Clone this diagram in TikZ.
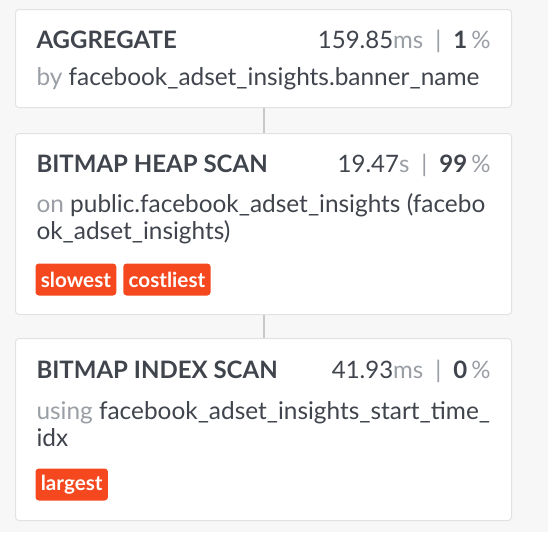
\documentclass[tikz,border=0pt]{standalone}
\usepackage{fontspec}
\setmainfont{Lato}
\usetikzlibrary{positioning}

\definecolor{pagebg}{HTML}{F7F7F7}
\definecolor{nodetext}{HTML}{40444C}
\definecolor{mutedtext}{HTML}{9A9EA5}
\definecolor{tagred}{HTML}{F5481E}
\definecolor{linkgray}{HTML}{C8C8C8}
\definecolor{boxline}{HTML}{E2E2E2}

\newcommand{\planstats}[3]{#1\textcolor{mutedtext}{#2}\enspace\textcolor{mutedtext}{|}\enspace\textbf{#3}\,\textcolor{mutedtext}{\%}}

\tikzset{every picture/.style={line width=0.75pt}}
\tikzset{
  planbox/.style={draw=boxline, fill=white, rounded corners=2.5pt, anchor=north west,
    inner sep=0pt, minimum width=372pt},
  plantitle/.style={anchor=base west, inner sep=0pt, text=nodetext, font=\fontsize{18}{22}\selectfont\bfseries},
  planstat/.style={anchor=base east, inner sep=0pt, text=nodetext, font=\fontsize{18}{22}\selectfont},
  plandetail/.style={anchor=base west, inner sep=0pt, text=nodetext, align=left,
    font=\fontsize{18.3}{20}\selectfont},
  plantag/.style={fill=tagred, text=white, rounded corners=2.5pt, inner xsep=4pt, inner ysep=0pt,
    minimum height=24pt, font=\fontsize{15.5}{17}\selectfont\bfseries},
  planlink/.style={draw=linkgray, line width=1.5pt}
}

\begin{document}
\begin{tikzpicture}[x=0.75pt,y=0.75pt,yscale=-1,xscale=1]
\fill[pagebg] (0,0) rectangle (548,532);
\useasboundingbox (0,0) rectangle (548,532);

% Aggregate
\node[planbox, minimum height=73.5pt] (agg) at (15,9) {};
\node[plantitle] (aggtitle) at (36,48) {AGGREGATE};
\node[planstat] (aggstat) at (491,48) {\planstats{159.85}{ms}{1}};
\node[plandetail] (aggby) at (36,85) {\textcolor{mutedtext}{by} facebook\_adset\_insights.banner\_name};

% Bitmap heap scan
\node[planbox, minimum height=135.75pt] (heap) at (15,133) {};
\node[plantitle] (heaptitle) at (36,172) {BITMAP HEAP SCAN};
\node[planstat] (heapstat) at (491,172) {\planstats{19.47}{s}{99}};
\node[plandetail] (heapon) at (36,239) {\textcolor{mutedtext}{on} public.facebook\_adset\_insights (facebo\\ok\_adset\_insights)};
\node[plantag, anchor=north west] (slowest) at (35,263) {slowest};
\node[plantag, right=4.5pt of slowest] (costliest) {costliest};

% Bitmap index scan
\node[planbox, minimum height=136.5pt] (idx) at (15,338) {};
\node[plantitle] (idxtitle) at (36,378) {BITMAP INDEX SCAN};
\node[planstat] (idxstat) at (491,378) {\planstats{41.93}{ms}{0}};
\node[plandetail] (idxusing) at (36,446) {\textcolor{mutedtext}{using} facebook\_adset\_insights\_start\_time\_\\idx};
\node[plantag, anchor=north west] (largest) at (35,468) {largest};

% links
\draw[planlink] (agg.south) -- (heap.north);
\draw[planlink] (heap.south) -- (idx.north);

\end{tikzpicture}
\end{document}
